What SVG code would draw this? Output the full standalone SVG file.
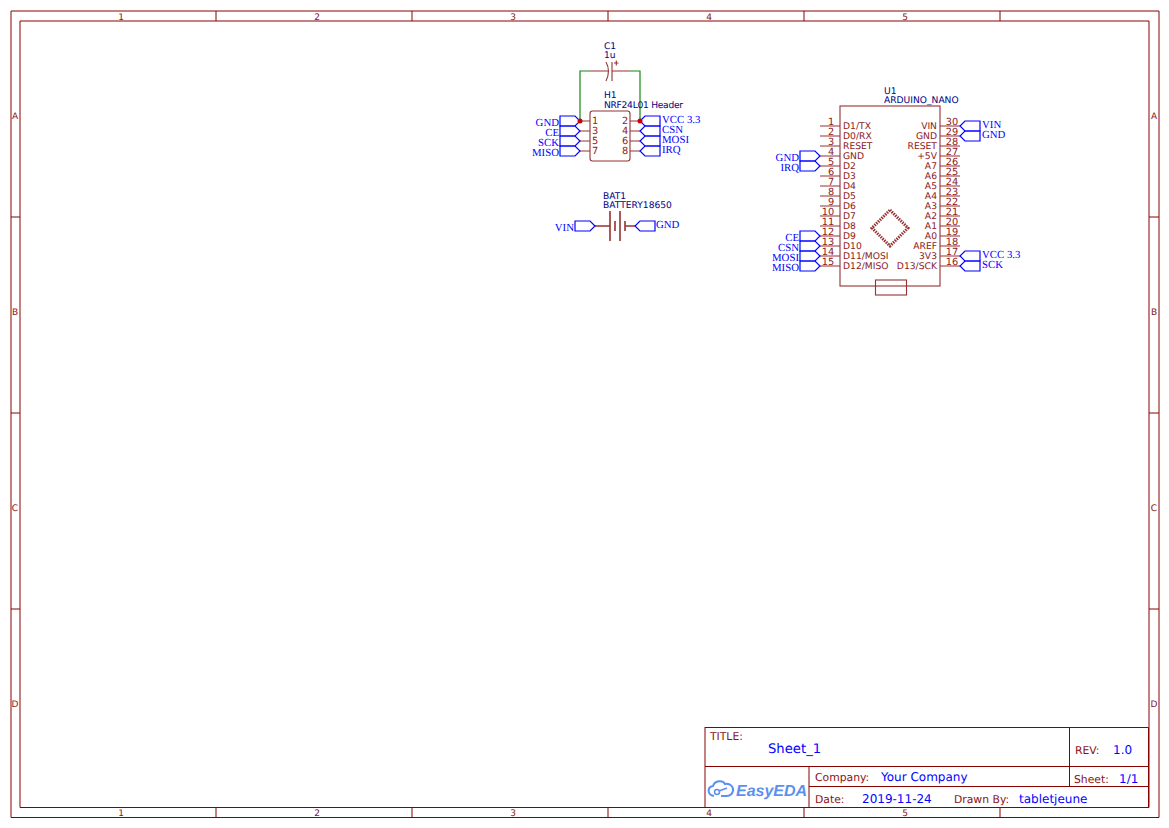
<svg xmlns="http://www.w3.org/2000/svg" width="1169" height="828" viewBox="0 0 1169 828" font-family="'DejaVu Sans',sans-serif" text-rendering="geometricPrecision">
<defs>
<style>
.f{fill:none;stroke:#880000;stroke-width:1}
.sym{fill:none;stroke:#963030;stroke-width:1.100}
.pin{stroke:#963030;stroke-width:1.100;fill:none}
.flag{fill:none;stroke:#0000ff;stroke-width:1.200}
.w{fill:none;stroke:#118811;stroke-width:1.200}
.bt{font-size:9px;fill:#8a1010;text-anchor:middle}
.pt{font-size:9.2px;fill:#8a1818}
.pn{font-size:9.8px;fill:#8a1818;text-anchor:middle}
.des{font-size:9.15px;fill:#000080}
.net{font-family:"Liberation Serif",serif;font-size:10.8px;fill:#0000ff}
.tl{font-size:10.8px;fill:#8a1010}
.tv{font-size:12px;fill:#0000ff}
.r{text-anchor:end}
.all{opacity:.99}
</style>
<path id="fr" class="flag" d="M0-5H15L20 0 15 5H0Z"/>
<path id="fl" class="flag" d="M20-5H5L0 0 5 5H20Z"/>
</defs>
<g class="all">
<g id="frame">
<path class="f" d="M11 11H1159V817.500H11ZM20 21H1149V807.500H20Z"/>
<path class="f" d="M216 11V21M412 11V21M608 11V21M804 11V21M1000 11V21M216 808V818M412 808V818M608 808V818M804 808V818M1000 808V818M11 217H20M11 413H20M11 609H20M1149 217H1159M1149 413H1159M1149 609H1159"/>
<g class="bt">
<text x="121" y="20">1</text><text x="317" y="20">2</text><text x="513" y="20">3</text><text x="709" y="20">4</text><text x="905" y="20">5</text>
<text x="121" y="816">1</text><text x="317" y="816">2</text><text x="513" y="816">3</text><text x="709" y="816">4</text><text x="905" y="816">5</text>
<text x="15" y="119">A</text><text x="15" y="315">B</text><text x="15" y="511">C</text><text x="15" y="707">D</text>
<text x="1154" y="119">A</text><text x="1154" y="315">B</text><text x="1154" y="511">C</text><text x="1154" y="707">D</text>
</g>
</g>
<g id="title-block">
<path class="f" d="M705 727.500H1148.500V807.500M705 727V807M705 766.500H1148.500M809 786.500H1148.500M1069.500 727.500V786.500M809 766.500V807"/>
<text class="tl" x="710" y="740">TITLE:</text>
<text x="768" y="753" style="font-size:13.200px;fill:#0000ff">Sheet_1</text>
<text class="tl" x="815" y="781">Company:</text>
<text class="tv" x="881" y="781">Your Company</text>
<text class="tl" x="815" y="803">Date:</text>
<text class="tv" x="862" y="803">2019-11-24</text>
<text class="tl" x="954" y="803">Drawn By:</text>
<text class="tv" x="1019" y="803">tabletjeune</text>
<text class="tl" x="1075" y="754">REV:</text>
<text class="tv" x="1113" y="754">1.0</text>
<text class="tl" x="1074" y="783">Sheet:</text>
<text class="tv" x="1119" y="783">1/1</text>
<g id="logo">
<path d="M714 796C707 795 707 787 713 786C715 780 723 780 725 784C730 783 734 787 733 791C732 795 729 796 726 796H721" fill="none" stroke="#5b8ff0" stroke-width="2"/>
<circle cx="717" cy="792" r="2.500" fill="none" stroke="#5b8ff0" stroke-width="1.500"/>
<path d="M719 791L727 788" fill="none" stroke="#5b8ff0" stroke-width="1.500"/>
<text x="736" y="796" style="font-family:'Liberation Sans',sans-serif;font-size:16px;font-weight:bold;font-style:italic;fill:#5b8ff0">EasyEDA</text>
</g>
</g>
<g id="wires">
<path class="w" d="M590 71H580V121M630 71H640V121"/>
</g>
<g id="C1">
<text class="des" x="604" y="49">C1</text>
<text class="des" x="604" y="58">1u</text>
<path class="sym" d="M590 71H608M612 71H630M612 62V81M606 62Q611 71 606 81M614 63H618.500M616.300 60.500V65.500"/>
</g>
<g id="H1">
<text class="des" x="604" y="98">H1</text>
<text class="des" x="604" y="108" textLength="79" lengthAdjust="spacing">NRF24L01 Header</text>
<rect class="sym" x="590" y="111" width="40" height="50" rx="2.500"/>
<path class="pin" d="M580 121H590M580 131H590M580 141H590M580 151H590M630 121H640M630 131H640M630 141H640M630 151H640"/>
<g class="pn">
<text x="595" y="124">1</text><text x="595" y="134">3</text><text x="595" y="144">5</text><text x="595" y="154">7</text>
<text x="625" y="124">2</text><text x="625" y="134">4</text><text x="625" y="144">6</text><text x="625" y="154">8</text>
</g>
<use href="#fr" x="560" y="121"/><use href="#fr" x="560" y="131"/><use href="#fr" x="560" y="141"/><use href="#fr" x="560" y="151"/>
<use href="#fl" x="640" y="121"/><use href="#fl" x="640" y="131"/><use href="#fl" x="640" y="141"/><use href="#fl" x="640" y="151"/>
<circle cx="580" cy="121" r="2.500" fill="#cc0000"/>
<circle cx="640" cy="121" r="2.500" fill="#cc0000"/>
<g class="net r">
<text x="559" y="126">GND</text><text x="559" y="136">CE</text><text x="559" y="146">SCK</text><text x="559" y="156">MISO</text>
</g>
<g class="net">
<text x="662" y="123">VCC 3.3</text><text x="662" y="133">CSN</text><text x="662" y="143">MOSI</text><text x="662" y="153">IRQ</text>
</g>
</g>
<g id="BAT1">
<text class="des" x="603" y="199">BAT1</text>
<text class="des" x="603" y="208">BATTERY18650</text>
<path d="M595 226H610M610 211V241M615 221V231M620 211V241M625 221V231M625 226H635" fill="none" stroke="#963030" stroke-width="1.600"/>
<use href="#fr" x="575" y="226"/><use href="#fl" x="635" y="226"/>
<text class="net r" x="574" y="231">VIN</text>
<text class="net" x="656" y="228">GND</text>
</g>
<g id="U1">
<text class="des" x="884" y="94">U1</text>
<text class="des" x="884" y="103">ARDUINO_NANO</text>
<rect class="sym" x="840" y="106" width="100" height="180"/>
<rect class="sym" x="875.500" y="280" width="31" height="15"/>
<path d="M890 210L908 228 890 246 872 228Z" fill="none" stroke="#963030" stroke-width="3" stroke-dasharray="1.500 1"/>
<path class="pin" d="M820 126H840M820 136H840M820 146H840M820 156H840M820 166H840M820 176H840M820 186H840M820 196H840M820 206H840M820 216H840M820 226H840M820 236H840M820 246H840M820 256H840M820 266H840M940 126H960M940 136H960M940 146H960M940 156H960M940 166H960M940 176H960M940 186H960M940 196H960M940 206H960M940 216H960M940 226H960M940 236H960M940 246H960M940 256H960M940 266H960"/>
<g class="pn">
<text x="831" y="125">1</text><text x="831" y="135">2</text><text x="831" y="145">3</text><text x="831" y="155">4</text><text x="831" y="165">5</text><text x="831" y="175">6</text><text x="831" y="185">7</text><text x="831" y="195">8</text><text x="831" y="205">9</text><text x="828" y="215">10</text><text x="828" y="225">11</text><text x="828" y="235">12</text><text x="828" y="245">13</text><text x="828" y="255">14</text><text x="828" y="265">15</text>
<text x="952" y="125">30</text><text x="952" y="135">29</text><text x="952" y="145">28</text><text x="952" y="155">27</text><text x="952" y="165">26</text><text x="952" y="175">25</text><text x="952" y="185">24</text><text x="952" y="195">23</text><text x="952" y="205">22</text><text x="952" y="215">21</text><text x="952" y="225">20</text><text x="952" y="235">19</text><text x="952" y="245">18</text><text x="952" y="255">17</text><text x="952" y="265">16</text>
</g>
<g class="pt">
<text x="843" y="129">D1/TX</text><text x="843" y="139">D0/RX</text><text x="843" y="149">RESET</text><text x="843" y="159">GND</text><text x="843" y="169">D2</text><text x="843" y="179">D3</text><text x="843" y="189">D4</text><text x="843" y="199">D5</text><text x="843" y="209">D6</text><text x="843" y="219">D7</text><text x="843" y="229">D8</text><text x="843" y="239">D9</text><text x="843" y="249">D10</text><text x="843" y="259">D11/MOSI</text><text x="843" y="269">D12/MISO</text>
</g>
<g class="pt r">
<text x="937" y="129">VIN</text><text x="937" y="139">GND</text><text x="937" y="149">RESET</text><text x="937" y="159">+5V</text><text x="937" y="169">A7</text><text x="937" y="179">A6</text><text x="937" y="189">A5</text><text x="937" y="199">A4</text><text x="937" y="209">A3</text><text x="937" y="219">A2</text><text x="937" y="229">A1</text><text x="937" y="239">A0</text><text x="937" y="249">AREF</text><text x="937" y="259">3V3</text><text x="937" y="269">D13/SCK</text>
</g>
<use href="#fr" x="800" y="156"/><use href="#fr" x="800" y="166"/>
<use href="#fr" x="800" y="236"/><use href="#fr" x="800" y="246"/><use href="#fr" x="800" y="256"/><use href="#fr" x="800" y="266"/>
<use href="#fl" x="960" y="126"/><use href="#fl" x="960" y="136"/><use href="#fl" x="960" y="256"/><use href="#fl" x="960" y="266"/>
<g class="net r">
<text x="799" y="161">GND</text><text x="799" y="171">IRQ</text><text x="799" y="241">CE</text><text x="799" y="251">CSN</text><text x="799" y="261">MOSI</text><text x="799" y="271">MISO</text>
</g>
<g class="net">
<text x="982" y="128">VIN</text><text x="982" y="138">GND</text><text x="982" y="258">VCC 3.3</text><text x="982" y="268">SCK</text>
</g>
</g>
</g>
</svg>
